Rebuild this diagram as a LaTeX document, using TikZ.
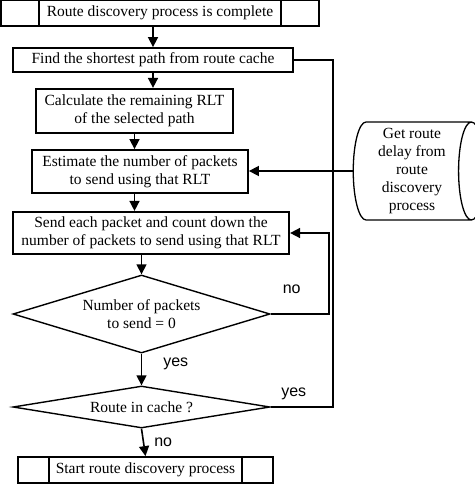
\documentclass[tikz,border=0pt]{standalone}
\usepackage{fontspec}
\setmainfont{Liberation Serif}
\newfontfamily\answerfont{Liberation Sans}
\usetikzlibrary{shapes.geometric, positioning, arrows.meta}
\tikzset{
    >={Triangle[length=10pt, width=10pt]}, % filled arrow heads
    every node/.style={font=\fontsize{15.5}{18}\selectfont, align=center}, % text of every node
    process/.style={draw, line width=1.8pt, inner sep=0pt}, % plain boxes
    predef/.style={process, path picture={
        \draw[line width=1.6pt] ([xshift=#1]path picture bounding box.north west) -- ([xshift=#1]path picture bounding box.south west)
            ([xshift=-#1]path picture bounding box.north east) -- ([xshift=-#1]path picture bounding box.south east);}}, % box with side bars
    decision/.style={draw, diamond, line width=1.4pt, inner sep=0pt, minimum width=257pt}, % tests
    store/.style={draw, cylinder, line width=1.3pt, aspect=0.3, minimum height=131pt, minimum width=98pt, inner sep=0pt}, % data
    flow/.style={->, line width=1.6pt}, % connectors
    answer/.style={font=\answerfont\fontsize{16}{19}\selectfont, inner sep=0pt}, % yes / no
    }
\begin{document}
\begin{tikzpicture}[x=1pt, y=-1pt]
    \useasboundingbox (0,0) rectangle (474,484);
    \node[predef=38pt, minimum width=318pt, minimum height=26pt] (start) at (160,13) {Route discovery process is complete};
    \node[process, minimum width=280pt, minimum height=24pt] (find) at (153,60) {Find the shortest path from route cache};
    \node[process, line width=2.2pt, minimum width=197pt, minimum height=44pt] (calc) at (134.5,111) {Calculate the remaining RLT\\of the selected path};
    \node[process, minimum width=216pt, minimum height=43pt] (est) at (140,171.5) {Estimate the number of packets\\to send using that RLT};
    \node[process, line width=2.2pt, minimum width=276pt, minimum height=42pt] (send) at (151,233) {Send each packet and count down the\\number of packets to send using that RLT};
    \node[decision, aspect=3.3, minimum height=78pt] (zero) at (141.5,314) {Number of packets\\to send = 0};
    \node[decision, aspect=6.1, minimum height=42pt] (cache) at (141.5,407) {Route in cache ?};
    \node[predef=31pt, minimum width=255pt, minimum height=26pt] (restart) at (145.5,470) {Start route discovery process};
    \node[store] (delay) at (412,171) {Get route\\delay from\\route\\discovery\\process};
    \coordinate (noloop) at (329,0);
    \coordinate (yesloop) at (333,0);

    \draw[flow] (start.south -| find.north) -- (find.north);
    \draw[flow] (find.south) -- (find.south |- calc.north);
    \draw[flow] (calc.south) -- (calc.south |- est.north);
    \draw[flow] (est.south -| calc.south) -- (send.north -| calc.south);
    \draw[flow] (send.south -| zero.north) -- (zero.north);
    \draw[flow] (zero.south) -- node[answer, pos=0.31, right=21pt] {yes} (cache.north);
    \draw[flow] (cache.south) -- node[answer, pos=0.5, right=10pt] {no} (restart.north);
    \draw[flow] (delay.west) -- (delay.west -| est.east);
    \draw[flow] (zero.east) -- node[answer, pos=0.36, above=20pt] {no} (zero.east -| noloop) |- (send.east);
    \draw[line width=1.6pt] (cache.east) -- node[answer, pos=0.37, above=6pt] {yes} (cache.east -| yesloop) |- (find.east);
\end{tikzpicture}
\end{document}
